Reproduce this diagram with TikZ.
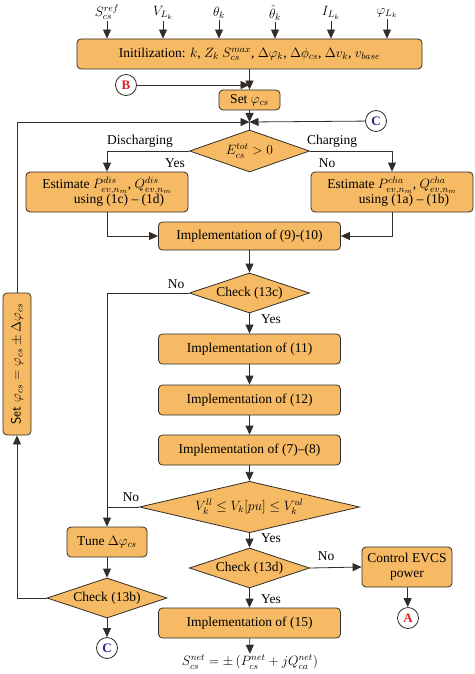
\documentclass[tikz,border=0pt]{standalone}
\usepackage{fontspec}
\setmainfont{Liberation Serif}
\usepackage{amsmath}
\usepackage{fix-cm}
\usetikzlibrary{shapes.geometric,arrows.meta}
\definecolor{boxor}{RGB}{246,186,100}
\definecolor{edge}{RGB}{50,45,40}
\definecolor{cred}{RGB}{225,30,40}
\definecolor{cblue}{RGB}{40,40,140}
\begin{document}
\begin{tikzpicture}[x=1pt,y=-1pt,
  every node/.style={font=\fontsize{13.5}{15}\selectfont},
  box/.style={draw=edge,fill=boxor,line width=0.8pt,rounded corners=4pt,inner sep=1pt,align=center},
  dec/.style={draw=edge,fill=boxor,line width=0.8pt,diamond,inner sep=0pt,aspect=3},
  circ/.style={draw=edge,fill=white,circle,line width=0.8pt,minimum size=21pt,inner sep=0pt,font=\fontsize{13}{14}\selectfont\bfseries},
  lbl/.style={inner sep=1pt},
  arr/.style={draw=edge,line width=0.8pt,-{Triangle[length=9pt,width=8pt]}},
  ln/.style={draw=edge,line width=0.8pt}]
\useasboundingbox (0,0) rectangle (474,674);
% inputs
\node[lbl] (i1) at (107,12) {$S_{cs}^{ref}$};
\node[lbl] (i2) at (163,13) {$V_{L_k}$};
\node[lbl] (i3) at (219,13) {$\theta_k$};
\node[lbl] (i4) at (275,13) {$\hat{\theta}_k$};
\node[lbl] (i5) at (331,13) {$I_{L_k}$};
\node[lbl] (i6) at (387,13) {$\varphi_{L_k}$};
% boxes
\node[box,minimum width=345pt,minimum height=30pt] (init) at (249.5,54) {Initilization: $k$, $Z_k$ $S_{cs}^{max}$, $\Delta\varphi_k$, $\Delta\phi_{cs}$, $\Delta v_k$, $v_{base}$};
\node[box,minimum width=61pt,minimum height=20pt] (set) at (249.5,100) {Set $\varphi_{cs}$};
\coordinate (J) at (249.5,122);
\node[dec,minimum width=120pt,minimum height=42pt] (E) at (249.5,151) {$E_{cs}^{tot}>0$};
\node[box,minimum width=162pt,minimum height=40pt] (estL) at (107,192) {Estimate $P_{ev,n_m}^{dis}$, $Q_{ev,n_m}^{dis}$\\ \hspace*{24pt}using (1c) -- (1d)};
\node[box,minimum width=162pt,minimum height=40pt] (estR) at (392,192) {Estimate $P_{ev,n_m}^{cha}$, $Q_{ev,n_m}^{cha}$\\ \hspace*{24pt}using (1a) -- (1b)};
\node[box,minimum width=182pt,minimum height=28pt] (i910) at (249.5,236) {Implementation of (9)-(10)};
\node[dec,minimum width=120pt,minimum height=40pt] (c13c) at (249.5,293) {Check (13c)};
\node[box,minimum width=182pt,minimum height=30pt] (i11) at (249.5,349) {Implementation of (11)};
\node[box,minimum width=182pt,minimum height=30pt] (i12) at (249.5,400) {Implementation of (12)};
\node[box,minimum width=182pt,minimum height=30pt] (i78) at (249.5,450) {Implementation of (7)--(8)};
\node[dec,minimum width=220pt,minimum height=40pt] (V) at (249.5,507) {$V_k^{ll}\le V_k[pu]\le V_k^{ul}$};
\node[box,minimum width=80pt,minimum height=30pt] (tune) at (107,542) {Tune $\Delta\varphi_{cs}$};
\node[dec,minimum width=120pt,minimum height=40pt] (c13b) at (107,598) {Check (13b)};
\node[dec,minimum width=120pt,minimum height=40pt] (c13d) at (249.5,568) {Check (13d)};
\node[box,minimum width=90pt,minimum height=40pt,align=center] (ctrl) at (407,567) {Control EVCS\\power};
\node[box,minimum width=182pt,minimum height=30pt] (i15) at (249.5,623) {Implementation of (15)};
\node[lbl] (snet) at (250,662) {$S_{cs}^{net}=\pm\left(P_{cs}^{net}+jQ_{ca}^{net}\right)$};
\node[box,rotate=90,minimum width=142pt,minimum height=28pt] (setr) at (17,364) {\sffamily Set $\varphi_{cs}=\varphi_{cs}\pm\Delta\varphi_{cs}$};
% circles
\node[circ,text=cred] (B) at (126,85) {B};
\node[circ,text=cblue] (C) at (376,121) {C};
\node[circ,text=cblue] (Cb) at (107,648) {C};
\node[circ,text=cred] (A) at (408,618) {A};
% labels
\node[lbl] at (140,141) {Discharging};
\node[lbl] at (332,141) {Charging};
\node[lbl] at (175,163) {Yes};
\node[lbl] at (327,163) {No};
\node[lbl] at (176,284) {No};
\node[lbl] at (271,319) {Yes};
\node[lbl] at (131,497) {No};
\node[lbl] at (271,538) {Yes};
\node[lbl] at (326,556) {No};
\node[lbl] at (271,599) {Yes};
% connectors
\foreach \n in {i1,i2,i3,i4,i5,i6} \draw[arr] (\n.south) -- (\n.south |- init.north);
\draw[arr] (init.south) -- (set.north);
\draw[arr] (B) -- (B -| init.south);
\draw[arr] (set.south) -- (J);
\draw[arr] (C) -- (J);
\draw[ln] (J) -- (E.north);
\draw[arr] (E.west) -| (estL.north);
\draw[arr] (E.east) -| (estR.north);
\draw[arr] (estL.south) |- (i910.west);
\draw[arr] (estR.south) |- (i910.east);
\draw[arr] (i910) -- (c13c);
\draw[arr] (c13c.west) -| (tune.north);
\draw[ln] (V.west) -- (V.west -| tune.north);
\draw[arr] (c13c) -- (i11);
\draw[arr] (i11) -- (i12);
\draw[arr] (i12) -- (i78);
\draw[arr] (i78) -- (V);
\draw[arr] (V) -- (c13d);
\draw[arr] (c13d.east) -- (ctrl.west);
\draw[arr] (ctrl) -- (A);
\draw[arr] (c13d) -- (i15);
\draw[arr] (i15) -- (snet);
\draw[arr] (tune) -- (c13b);
\draw[arr] (c13b) -- (Cb);
\draw[arr] (c13b.west) -| (setr.west);
\draw[arr] (setr.east) |- (J);
\end{tikzpicture}
\end{document}
